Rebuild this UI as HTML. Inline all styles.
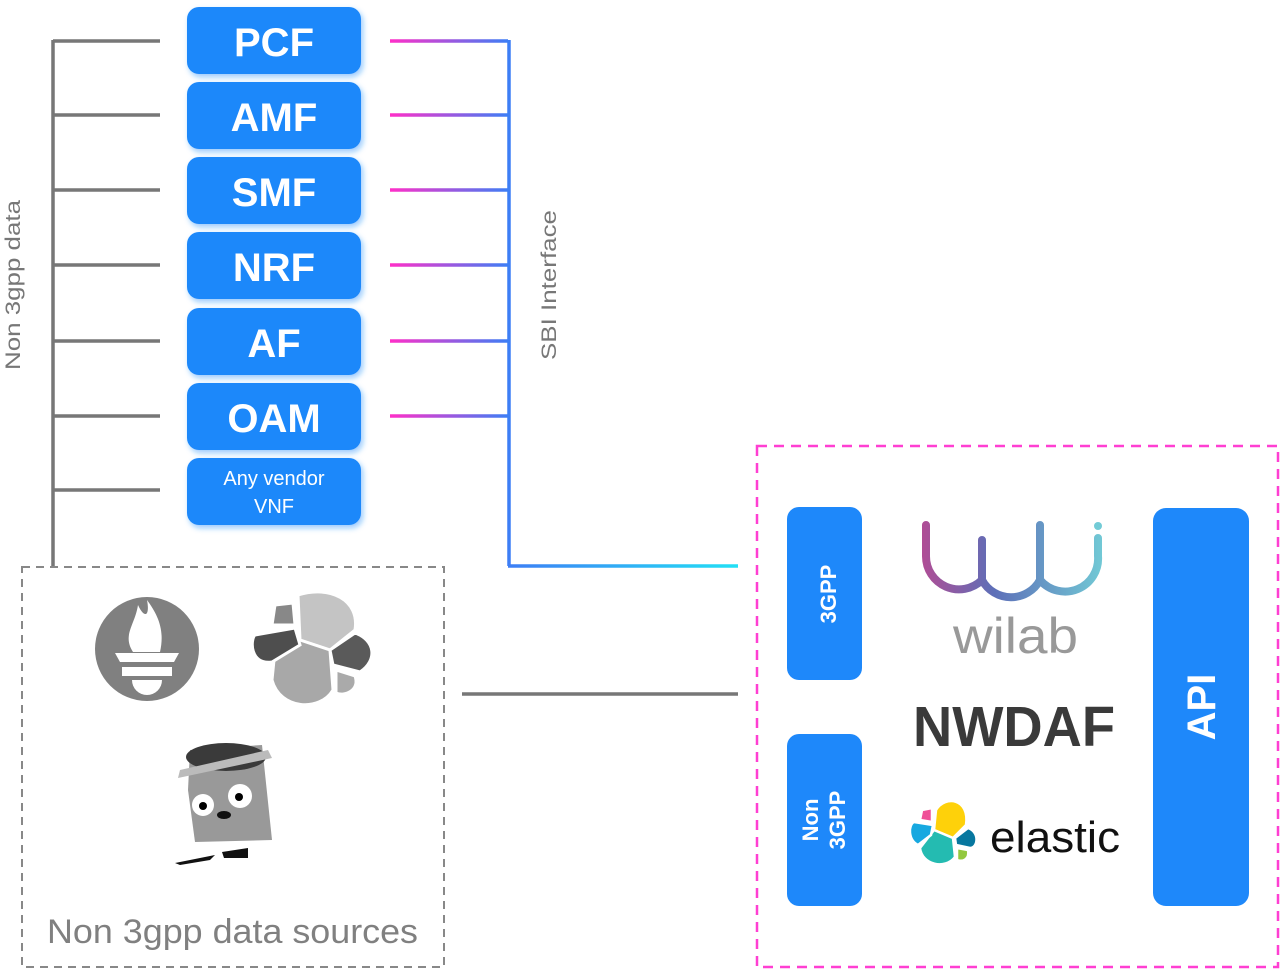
<!DOCTYPE html>
<html><head><meta charset="utf-8"><style>
html,body{margin:0;padding:0;background:#fff;}
svg{display:block;}
text{font-family:"Liberation Sans",sans-serif;}
</style></head><body>
<svg width="1280" height="969" viewBox="0 0 1280 969" xmlns="http://www.w3.org/2000/svg">
<defs>
<linearGradient id="g1" gradientUnits="userSpaceOnUse" x1="390" x2="508" y1="0" y2="0"><stop offset="0" stop-color="#ff2fc8"/><stop offset="1" stop-color="#3d7ef5"/></linearGradient>
<linearGradient id="g2" gradientUnits="userSpaceOnUse" x1="509" x2="738" y1="0" y2="0"><stop offset="0" stop-color="#3d7ef5"/><stop offset="1" stop-color="#22e0f5"/></linearGradient>
<linearGradient id="gw" gradientUnits="userSpaceOnUse" x1="920" x2="1105" y1="0" y2="0"><stop offset="0" stop-color="#b24c94"/><stop offset="0.4" stop-color="#5d6fb8"/><stop offset="1" stop-color="#72cbd6"/></linearGradient>
<filter id="sh" x="-20%" y="-20%" width="140%" height="150%"><feDropShadow dx="2" dy="3" stdDeviation="3" flood-color="#1e88fa" flood-opacity="0.45"/></filter>
</defs>

<g stroke="#777" stroke-width="3.5" fill="none">
<line x1="53" y1="40" x2="53" y2="567"/>
<line x1="53" y1="41" x2="160" y2="41"/>
<line x1="53" y1="115" x2="160" y2="115"/>
<line x1="53" y1="190" x2="160" y2="190"/>
<line x1="53" y1="265" x2="160" y2="265"/>
<line x1="53" y1="341" x2="160" y2="341"/>
<line x1="53" y1="416" x2="160" y2="416"/>
<line x1="53" y1="490" x2="160" y2="490"/>
</g>
<text transform="translate(20,285) rotate(-90)" text-anchor="middle" font-size="21" fill="#777" textLength="170" lengthAdjust="spacingAndGlyphs">Non 3gpp data</text>

<g stroke-width="3.5" fill="none" stroke="url(#g1)">
<line x1="390" y1="41" x2="508" y2="41"/>
<line x1="390" y1="115" x2="508" y2="115"/>
<line x1="390" y1="190" x2="508" y2="190"/>
<line x1="390" y1="265" x2="508" y2="265"/>
<line x1="390" y1="341" x2="508" y2="341"/>
<line x1="390" y1="416" x2="508" y2="416"/>
</g>
<line x1="509" y1="40" x2="509" y2="566" stroke="#3d7ef5" stroke-width="3.5"/>
<line x1="508" y1="566" x2="738" y2="566" stroke="url(#g2)" stroke-width="3.5"/>
<text transform="translate(556,285) rotate(-90)" text-anchor="middle" font-size="21" fill="#777" textLength="150" lengthAdjust="spacingAndGlyphs">SBI Interface</text>

<g fill="#1e88fa" filter="url(#sh)">
<rect x="187" y="7" width="174" height="67" rx="12"/>
<rect x="187" y="82" width="174" height="67" rx="12"/>
<rect x="187" y="157" width="174" height="67" rx="12"/>
<rect x="187" y="232" width="174" height="67" rx="12"/>
<rect x="187" y="308" width="174" height="67" rx="12"/>
<rect x="187" y="383" width="174" height="67" rx="12"/>
<rect x="187" y="458" width="174" height="67" rx="12"/>
</g>
<g fill="#fff" font-weight="bold" font-size="40" text-anchor="middle">
<text x="274" y="56">PCF</text>
<text x="274" y="131">AMF</text>
<text x="274" y="206">SMF</text>
<text x="274" y="281">NRF</text>
<text x="274" y="357">AF</text>
<text x="274" y="432">OAM</text>
<text x="274" y="485" font-size="20" font-weight="normal">Any vendor</text>
<text x="274" y="513" font-size="20" font-weight="normal">VNF</text>
</g>

<rect x="22" y="567" width="422" height="400" fill="none" stroke="#888" stroke-width="2" stroke-dasharray="8,6"/>
<line x1="462" y1="694" x2="738" y2="694" stroke="#777" stroke-width="3.5"/>
<circle cx="147" cy="649" r="52" fill="#808080"/>
<path d="M133 652 C122 635 135 625 138 605 C145 620 150 615 147 600 C158 615 165 630 160 652 Z" fill="#fff"/>
<path d="M115 653 L179 653 L174 662 L120 662 Z" fill="#fff"/>
<rect x="122" y="667" width="50" height="9" fill="#fff"/>
<path d="M132 680 L162 680 A15 15 0 0 1 132 680 Z" fill="#fff"/>
<g stroke="#fff" stroke-width="3">
<path d="M298 595 C330 585 360 600 355 630 L330 650 L300 640 Z" fill="#c4c4c4"/>
<path d="M300 640 L330 650 L333 690 C320 712 280 710 272 680 L275 650 Z" fill="#a8a8a8"/>
<path d="M255 635 L295 628 L300 645 L272 662 C250 665 250 640 255 635Z" fill="#4e4e4e"/>
<path d="M330 650 L355 633 C375 640 378 660 360 672 L333 665 Z" fill="#5a5a5a"/>
<path d="M275 605 L293 603 L295 625 L272 625 Z" fill="#888"/>
<path d="M336 670 L355 676 C360 690 345 697 336 693 Z" fill="#aaa"/>
</g>
<g>
<path d="M188 790 L190 750 L262 745 L272 840 L195 842 Z" fill="#999"/>
<ellipse cx="226" cy="757" rx="40" ry="14" fill="#3a3a3a"/>
<path d="M178 778 L272 758 L268 750 L180 770 Z" fill="#bbb"/>
<circle cx="203" cy="805" r="11" fill="#fff"/><circle cx="203" cy="806" r="4" fill="#000"/>
<circle cx="240" cy="796" r="12" fill="#fff"/><circle cx="239" cy="797" r="4" fill="#000"/>
<ellipse cx="224" cy="815" rx="7" ry="4" fill="#111"/>
<path d="M175 863 L215 855 L210 860 L180 865Z" fill="#111"/>
<path d="M222 852 L248 848 L248 858 L224 858Z" fill="#111"/>
</g>
<text x="47" y="943" font-size="34" fill="#808080" textLength="371" lengthAdjust="spacingAndGlyphs">Non 3gpp data sources</text>

<rect x="757" y="446" width="521" height="521" fill="none" stroke="#ff3fd2" stroke-width="2.5" stroke-dasharray="10,7"/>
<rect x="787" y="507" width="75" height="173" rx="12" fill="#1e88fa"/>
<rect x="787" y="734" width="75" height="172" rx="12" fill="#1e88fa"/>
<rect x="1153" y="508" width="96" height="398" rx="13" fill="#1e88fa"/>
<text transform="translate(836,594) rotate(-90)" text-anchor="middle" font-size="22" font-weight="bold" fill="#fff">3GPP</text>
<text transform="translate(818,820) rotate(-90)" text-anchor="middle" font-size="22" font-weight="bold" fill="#fff">Non</text>
<text transform="translate(845,820) rotate(-90)" text-anchor="middle" font-size="22" font-weight="bold" fill="#fff">3GPP</text>
<text transform="translate(1215,707) rotate(-90)" text-anchor="middle" font-size="40" font-weight="bold" fill="#fff">API</text>

<path d="M926 525 L926 556 A33 33 0 0 0 982 580 A33 33 0 0 0 1040 580 A33 33 0 0 0 1098 556 L1098 538 M982 540 L982 580 M1040 525 L1040 580" fill="none" stroke="url(#gw)" stroke-width="8" stroke-linecap="round"/>
<circle cx="1098" cy="526" r="4" fill="#72cbd6"/>
<text x="953" y="653" font-size="50" fill="#999" textLength="125" lengthAdjust="spacingAndGlyphs">wilab</text>

<text x="913" y="746" font-size="57" font-weight="bold" fill="#3a3a3a" textLength="202" lengthAdjust="spacingAndGlyphs">NWDAF</text>

<g stroke="#fff" stroke-width="2.5">
<path d="M936 810 C945 795 970 798 966 825 L953 838 L934 830 Z" fill="#fed10a"/>
<path d="M934 830 L953 838 L955 857 C945 870 922 865 920 848 Z" fill="#24bbb1"/>
<path d="M914 822 L933 825 L931 835 L918 845 C908 840 908 825 914 822Z" fill="#17a8e0"/>
<path d="M955 838 L968 828 C980 832 978 848 970 848 L956 845 Z" fill="#07779f"/>
<path d="M922 810 L932 808 L932 822 L920 820 Z" fill="#ef5098"/>
<path d="M957 848 L968 850 C970 860 962 862 957 860 Z" fill="#93c83e"/>
</g>
<text x="990" y="852" font-size="44" fill="#111" textLength="130" lengthAdjust="spacingAndGlyphs">elastic</text>
</svg>
</body></html>
